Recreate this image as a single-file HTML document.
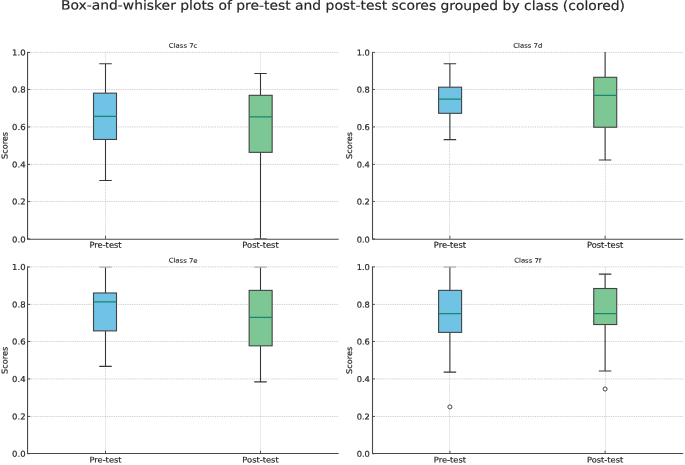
<!DOCTYPE html>
<html lang="en"><head><meta charset="utf-8"><title>Box-and-whisker plots</title>
<style>html,body{margin:0;padding:0;background:#fff;}body{width:685px;height:465px;overflow:hidden;}svg{display:block;}</style>
</head><body>
<svg width="685" height="465" viewBox="0 0 685 465" font-family='"DejaVu Sans", "Liberation Sans", sans-serif' fill="#262626" text-rendering="geometricPrecision">
<rect width="685" height="465" fill="#fff"/>
<text transform="translate(342.90 9.80) rotate(0.05) scale(1 0.92)" font-size="13.885" text-anchor="middle" stroke="#262626" stroke-width="0.2">Box-and-whisker plots of pre-test and post-test scores grouped by class (colored)</text>
<clipPath id="c0"><rect x="27.5" y="52.1" width="311.20" height="186.67"/></clipPath>
<path d="M27.5 201.45H338.7M27.5 164.40H338.7M27.5 126.95H338.7M27.5 89.45H338.7M27.5 52.40H338.7" stroke="#c2c5c9" stroke-width="1.0" stroke-dasharray="0.85 0.92" fill="none"/>
<path d="M105.50 52.1V238.77M260.50 52.1V238.77" stroke="#cdd0d4" stroke-width="1.0" stroke-dasharray="0.85 0.92" fill="none"/>
<g clip-path="url(#c0)" stroke="#363636" stroke-width="1.1" fill="none">
<path d="M105.50 139.46V180.44M105.50 93.17V63.77M99.25 180.44h12.50M99.25 63.77h12.50"/>
<rect x="93.50" y="93.17" width="23.00" height="46.29" fill="#70c3e5" stroke="#424242"/>
<path d="M93.50 116.41h23.00" stroke="#17876f" stroke-width="1.2"/>
<path d="M260.50 152.34V238.77M260.50 95.31V73.47M254.25 238.77h12.50M254.25 73.47h12.50"/>
<rect x="249.15" y="95.31" width="23.00" height="57.03" fill="#7dc795" stroke="#424242"/>
<path d="M249.15 116.78h23.00" stroke="#17876f" stroke-width="1.2"/>
</g>
<path d="M27.5 238.90h2.7M27.5 201.45h2.7M27.5 164.40h2.7M27.5 126.95h2.7M27.5 89.45h2.7M27.5 52.40h2.7M105.50 238.77v-3M260.50 238.77v-3" stroke="#484848" stroke-width="0.95" fill="none"/>
<path d="M27.55 51.92V239.2H338.7" stroke="#484848" stroke-width="1.1" fill="none" stroke-linejoin="miter"/>
<text transform="translate(25.55 242.45) rotate(0.05) scale(1 0.97)" font-size="8.5" text-anchor="end" stroke="#262626" stroke-width="0.2">0.0</text>
<text transform="translate(25.55 204.60) rotate(0.05) scale(1 0.97)" font-size="8.5" text-anchor="end" stroke="#262626" stroke-width="0.2">0.2</text>
<text transform="translate(25.55 167.55) rotate(0.05) scale(1 0.97)" font-size="8.5" text-anchor="end" stroke="#262626" stroke-width="0.2">0.4</text>
<text transform="translate(25.55 130.10) rotate(0.05) scale(1 0.97)" font-size="8.5" text-anchor="end" stroke="#262626" stroke-width="0.2">0.6</text>
<text transform="translate(25.55 92.60) rotate(0.05) scale(1 0.97)" font-size="8.5" text-anchor="end" stroke="#262626" stroke-width="0.2">0.8</text>
<text transform="translate(25.55 55.55) rotate(0.05) scale(1 0.97)" font-size="8.5" text-anchor="end" stroke="#262626" stroke-width="0.2">1.0</text>
<text transform="translate(105.50 247.75) rotate(0.05) scale(1 0.975)" font-size="8.3" text-anchor="middle" stroke="#262626" stroke-width="0.2">Pre-test</text>
<text transform="translate(260.50 247.75) rotate(0.05) scale(1 0.975)" font-size="8.3" text-anchor="middle" stroke="#262626" stroke-width="0.2">Post-test</text>
<text transform="translate(7.55 145.44) rotate(-89.95) scale(0.985 0.97)" font-size="8.3" text-anchor="middle" stroke="#262626" stroke-width="0.2">Scores</text>
<text transform="translate(183.10 47.70) rotate(0.05) scale(1 0.92)" font-size="6.9" text-anchor="middle" stroke="#262626" stroke-width="0.12">Class 7c</text>
<clipPath id="c1"><rect x="372.25" y="52.1" width="310.95" height="186.67"/></clipPath>
<path d="M372.25 201.45H683.2M372.25 164.40H683.2M372.25 126.95H683.2M372.25 89.45H683.2M372.25 52.40H683.2" stroke="#c2c5c9" stroke-width="1.0" stroke-dasharray="0.85 0.92" fill="none"/>
<path d="M449.50 52.1V238.77M605.50 52.1V238.77" stroke="#cdd0d4" stroke-width="1.0" stroke-dasharray="0.85 0.92" fill="none"/>
<g clip-path="url(#c1)" stroke="#363636" stroke-width="1.1" fill="none">
<path d="M449.90 113.33V139.60M449.90 87.19V63.77M443.65 139.60h12.50M443.65 63.77h12.50"/>
<rect x="438.60" y="87.19" width="23.00" height="26.13" fill="#70c3e5" stroke="#424242"/>
<path d="M438.60 99.05h23.00" stroke="#17876f" stroke-width="1.2"/>
<path d="M605.10 127.23V160.01M605.10 77.30V42.77M598.85 160.01h12.50M598.85 42.77h12.50"/>
<rect x="593.73" y="77.30" width="23.00" height="49.93" fill="#7dc795" stroke="#424242"/>
<path d="M593.73 95.41h23.00" stroke="#17876f" stroke-width="1.2"/>
</g>
<path d="M372.25 238.90h2.7M372.25 201.45h2.7M372.25 164.40h2.7M372.25 126.95h2.7M372.25 89.45h2.7M372.25 52.40h2.7M449.90 238.77v-3M605.10 238.77v-3" stroke="#484848" stroke-width="0.95" fill="none"/>
<path d="M372.5 51.92V239.2H683.2" stroke="#484848" stroke-width="1.1" fill="none" stroke-linejoin="miter"/>
<text transform="translate(369.85 242.45) rotate(0.05) scale(1 0.97)" font-size="8.3" text-anchor="end" stroke="#262626" stroke-width="0.2">0.0</text>
<text transform="translate(369.85 204.60) rotate(0.05) scale(1 0.97)" font-size="8.3" text-anchor="end" stroke="#262626" stroke-width="0.2">0.2</text>
<text transform="translate(369.85 167.55) rotate(0.05) scale(1 0.97)" font-size="8.3" text-anchor="end" stroke="#262626" stroke-width="0.2">0.4</text>
<text transform="translate(369.85 130.10) rotate(0.05) scale(1 0.97)" font-size="8.3" text-anchor="end" stroke="#262626" stroke-width="0.2">0.6</text>
<text transform="translate(369.85 92.60) rotate(0.05) scale(1 0.97)" font-size="8.3" text-anchor="end" stroke="#262626" stroke-width="0.2">0.8</text>
<text transform="translate(369.85 55.55) rotate(0.05) scale(1 0.97)" font-size="8.3" text-anchor="end" stroke="#262626" stroke-width="0.2">1.0</text>
<text transform="translate(449.90 247.75) rotate(0.05) scale(1 0.975)" font-size="8.3" text-anchor="middle" stroke="#262626" stroke-width="0.2">Pre-test</text>
<text transform="translate(605.10 247.75) rotate(0.05) scale(1 0.975)" font-size="8.3" text-anchor="middle" stroke="#262626" stroke-width="0.2">Post-test</text>
<text transform="translate(351.95 145.44) rotate(-89.95) scale(0.985 0.93)" font-size="8.3" text-anchor="middle" stroke="#262626" stroke-width="0.2">Scores</text>
<text transform="translate(527.73 47.70) rotate(0.05) scale(1 0.92)" font-size="6.9" text-anchor="middle" stroke="#262626" stroke-width="0.12">Class 7d</text>
<clipPath id="c2"><rect x="27.5" y="267.03" width="311.20" height="186.71"/></clipPath>
<path d="M27.5 416.45H338.7M27.5 378.95H338.7M27.5 341.45H338.7M27.5 304.40H338.7M27.5 266.90H338.7" stroke="#c2c5c9" stroke-width="1.0" stroke-dasharray="0.85 0.92" fill="none"/>
<path d="M105.50 267.03V453.74M260.50 267.03V453.74" stroke="#cdd0d4" stroke-width="1.0" stroke-dasharray="0.85 0.92" fill="none"/>
<g clip-path="url(#c2)" stroke="#363636" stroke-width="1.1" fill="none">
<path d="M105.50 330.88V366.36M105.50 292.98V267.03M99.25 366.36h12.50"/>
<rect x="93.50" y="292.98" width="23.00" height="37.90" fill="#70c3e5" stroke="#424242"/>
<path d="M93.50 301.85h23.00" stroke="#17876f" stroke-width="1.2"/>
<path d="M260.50 345.82V381.86M260.50 290.37V267.03M254.25 381.86h12.50"/>
<rect x="249.15" y="290.37" width="23.00" height="55.45" fill="#7dc795" stroke="#424242"/>
<path d="M249.15 317.44h23.00" stroke="#17876f" stroke-width="1.2"/>
</g>
<path d="M99.25 267.03h12.50M254.25 267.03h12.50" stroke="#b4b4b4" stroke-width="1.3" fill="none"/>
<path d="M27.5 453.70h2.7M27.5 416.45h2.7M27.5 378.95h2.7M27.5 341.45h2.7M27.5 304.40h2.7M27.5 266.90h2.7M105.50 453.74v-3M260.50 453.74v-3" stroke="#484848" stroke-width="0.95" fill="none"/>
<path d="M27.55 266.41999999999996V453.5H338.7" stroke="#484848" stroke-width="1.1" fill="none" stroke-linejoin="miter"/>
<text transform="translate(25.55 456.85) rotate(0.05) scale(1 0.97)" font-size="8.5" text-anchor="end" stroke="#262626" stroke-width="0.2">0.0</text>
<text transform="translate(25.55 419.60) rotate(0.05) scale(1 0.97)" font-size="8.5" text-anchor="end" stroke="#262626" stroke-width="0.2">0.2</text>
<text transform="translate(25.55 382.10) rotate(0.05) scale(1 0.97)" font-size="8.5" text-anchor="end" stroke="#262626" stroke-width="0.2">0.4</text>
<text transform="translate(25.55 344.60) rotate(0.05) scale(1 0.97)" font-size="8.5" text-anchor="end" stroke="#262626" stroke-width="0.2">0.6</text>
<text transform="translate(25.55 307.55) rotate(0.05) scale(1 0.97)" font-size="8.5" text-anchor="end" stroke="#262626" stroke-width="0.2">0.8</text>
<text transform="translate(25.55 270.05) rotate(0.05) scale(1 0.97)" font-size="8.5" text-anchor="end" stroke="#262626" stroke-width="0.2">1.0</text>
<text transform="translate(105.50 462.50) rotate(0.05) scale(1 0.93)" font-size="8.3" text-anchor="middle" stroke="#262626" stroke-width="0.2">Pre-test</text>
<text transform="translate(260.50 462.50) rotate(0.05) scale(1 0.93)" font-size="8.3" text-anchor="middle" stroke="#262626" stroke-width="0.2">Post-test</text>
<text transform="translate(7.55 360.38) rotate(-89.95) scale(0.985 0.97)" font-size="8.3" text-anchor="middle" stroke="#262626" stroke-width="0.2">Scores</text>
<text transform="translate(183.10 262.63) rotate(0.05) scale(1 0.92)" font-size="6.9" text-anchor="middle" stroke="#262626" stroke-width="0.12">Class 7e</text>
<clipPath id="c3"><rect x="372.25" y="267.03" width="310.95" height="186.71"/></clipPath>
<path d="M372.25 416.45H683.2M372.25 378.95H683.2M372.25 341.45H683.2M372.25 304.40H683.2M372.25 266.90H683.2" stroke="#c2c5c9" stroke-width="1.0" stroke-dasharray="0.85 0.92" fill="none"/>
<path d="M449.50 267.03V453.74M605.50 267.03V453.74" stroke="#cdd0d4" stroke-width="1.0" stroke-dasharray="0.85 0.92" fill="none"/>
<g clip-path="url(#c3)" stroke="#363636" stroke-width="1.1" fill="none">
<path d="M449.90 332.38V372.15M449.90 290.37V267.03M443.65 372.15h12.50"/>
<rect x="438.60" y="290.37" width="23.00" height="42.01" fill="#70c3e5" stroke="#424242"/>
<path d="M438.60 313.71h23.00" stroke="#17876f" stroke-width="1.2"/>
<circle cx="449.90" cy="406.91" r="2.05" fill="#fff" stroke="#333" stroke-width="0.9"/>
<path d="M605.10 324.54V371.03M605.10 288.50V274.12M598.85 371.03h12.50M598.85 274.12h12.50"/>
<rect x="593.73" y="288.50" width="23.00" height="36.04" fill="#7dc795" stroke="#424242"/>
<path d="M593.73 313.71h23.00" stroke="#17876f" stroke-width="1.2"/>
<circle cx="605.10" cy="388.99" r="2.05" fill="#fff" stroke="#333" stroke-width="0.9"/>
</g>
<path d="M443.65 267.03h12.50" stroke="#b4b4b4" stroke-width="1.3" fill="none"/>
<path d="M372.25 453.70h2.7M372.25 416.45h2.7M372.25 378.95h2.7M372.25 341.45h2.7M372.25 304.40h2.7M372.25 266.90h2.7M449.90 453.74v-3M605.10 453.74v-3" stroke="#484848" stroke-width="0.95" fill="none"/>
<path d="M372.5 266.41999999999996V453.5H683.2" stroke="#484848" stroke-width="1.1" fill="none" stroke-linejoin="miter"/>
<text transform="translate(369.85 456.85) rotate(0.05) scale(1 0.97)" font-size="8.3" text-anchor="end" stroke="#262626" stroke-width="0.2">0.0</text>
<text transform="translate(369.85 419.60) rotate(0.05) scale(1 0.97)" font-size="8.3" text-anchor="end" stroke="#262626" stroke-width="0.2">0.2</text>
<text transform="translate(369.85 382.10) rotate(0.05) scale(1 0.97)" font-size="8.3" text-anchor="end" stroke="#262626" stroke-width="0.2">0.4</text>
<text transform="translate(369.85 344.60) rotate(0.05) scale(1 0.97)" font-size="8.3" text-anchor="end" stroke="#262626" stroke-width="0.2">0.6</text>
<text transform="translate(369.85 307.55) rotate(0.05) scale(1 0.97)" font-size="8.3" text-anchor="end" stroke="#262626" stroke-width="0.2">0.8</text>
<text transform="translate(369.85 270.05) rotate(0.05) scale(1 0.97)" font-size="8.3" text-anchor="end" stroke="#262626" stroke-width="0.2">1.0</text>
<text transform="translate(449.90 462.50) rotate(0.05) scale(1 0.93)" font-size="8.3" text-anchor="middle" stroke="#262626" stroke-width="0.2">Pre-test</text>
<text transform="translate(605.10 462.50) rotate(0.05) scale(1 0.93)" font-size="8.3" text-anchor="middle" stroke="#262626" stroke-width="0.2">Post-test</text>
<text transform="translate(351.95 360.38) rotate(-89.95) scale(0.985 0.93)" font-size="8.3" text-anchor="middle" stroke="#262626" stroke-width="0.2">Scores</text>
<text transform="translate(527.73 262.63) rotate(0.05) scale(1 0.92)" font-size="6.9" text-anchor="middle" stroke="#262626" stroke-width="0.12">Class 7f</text>
</svg>
</body></html>
